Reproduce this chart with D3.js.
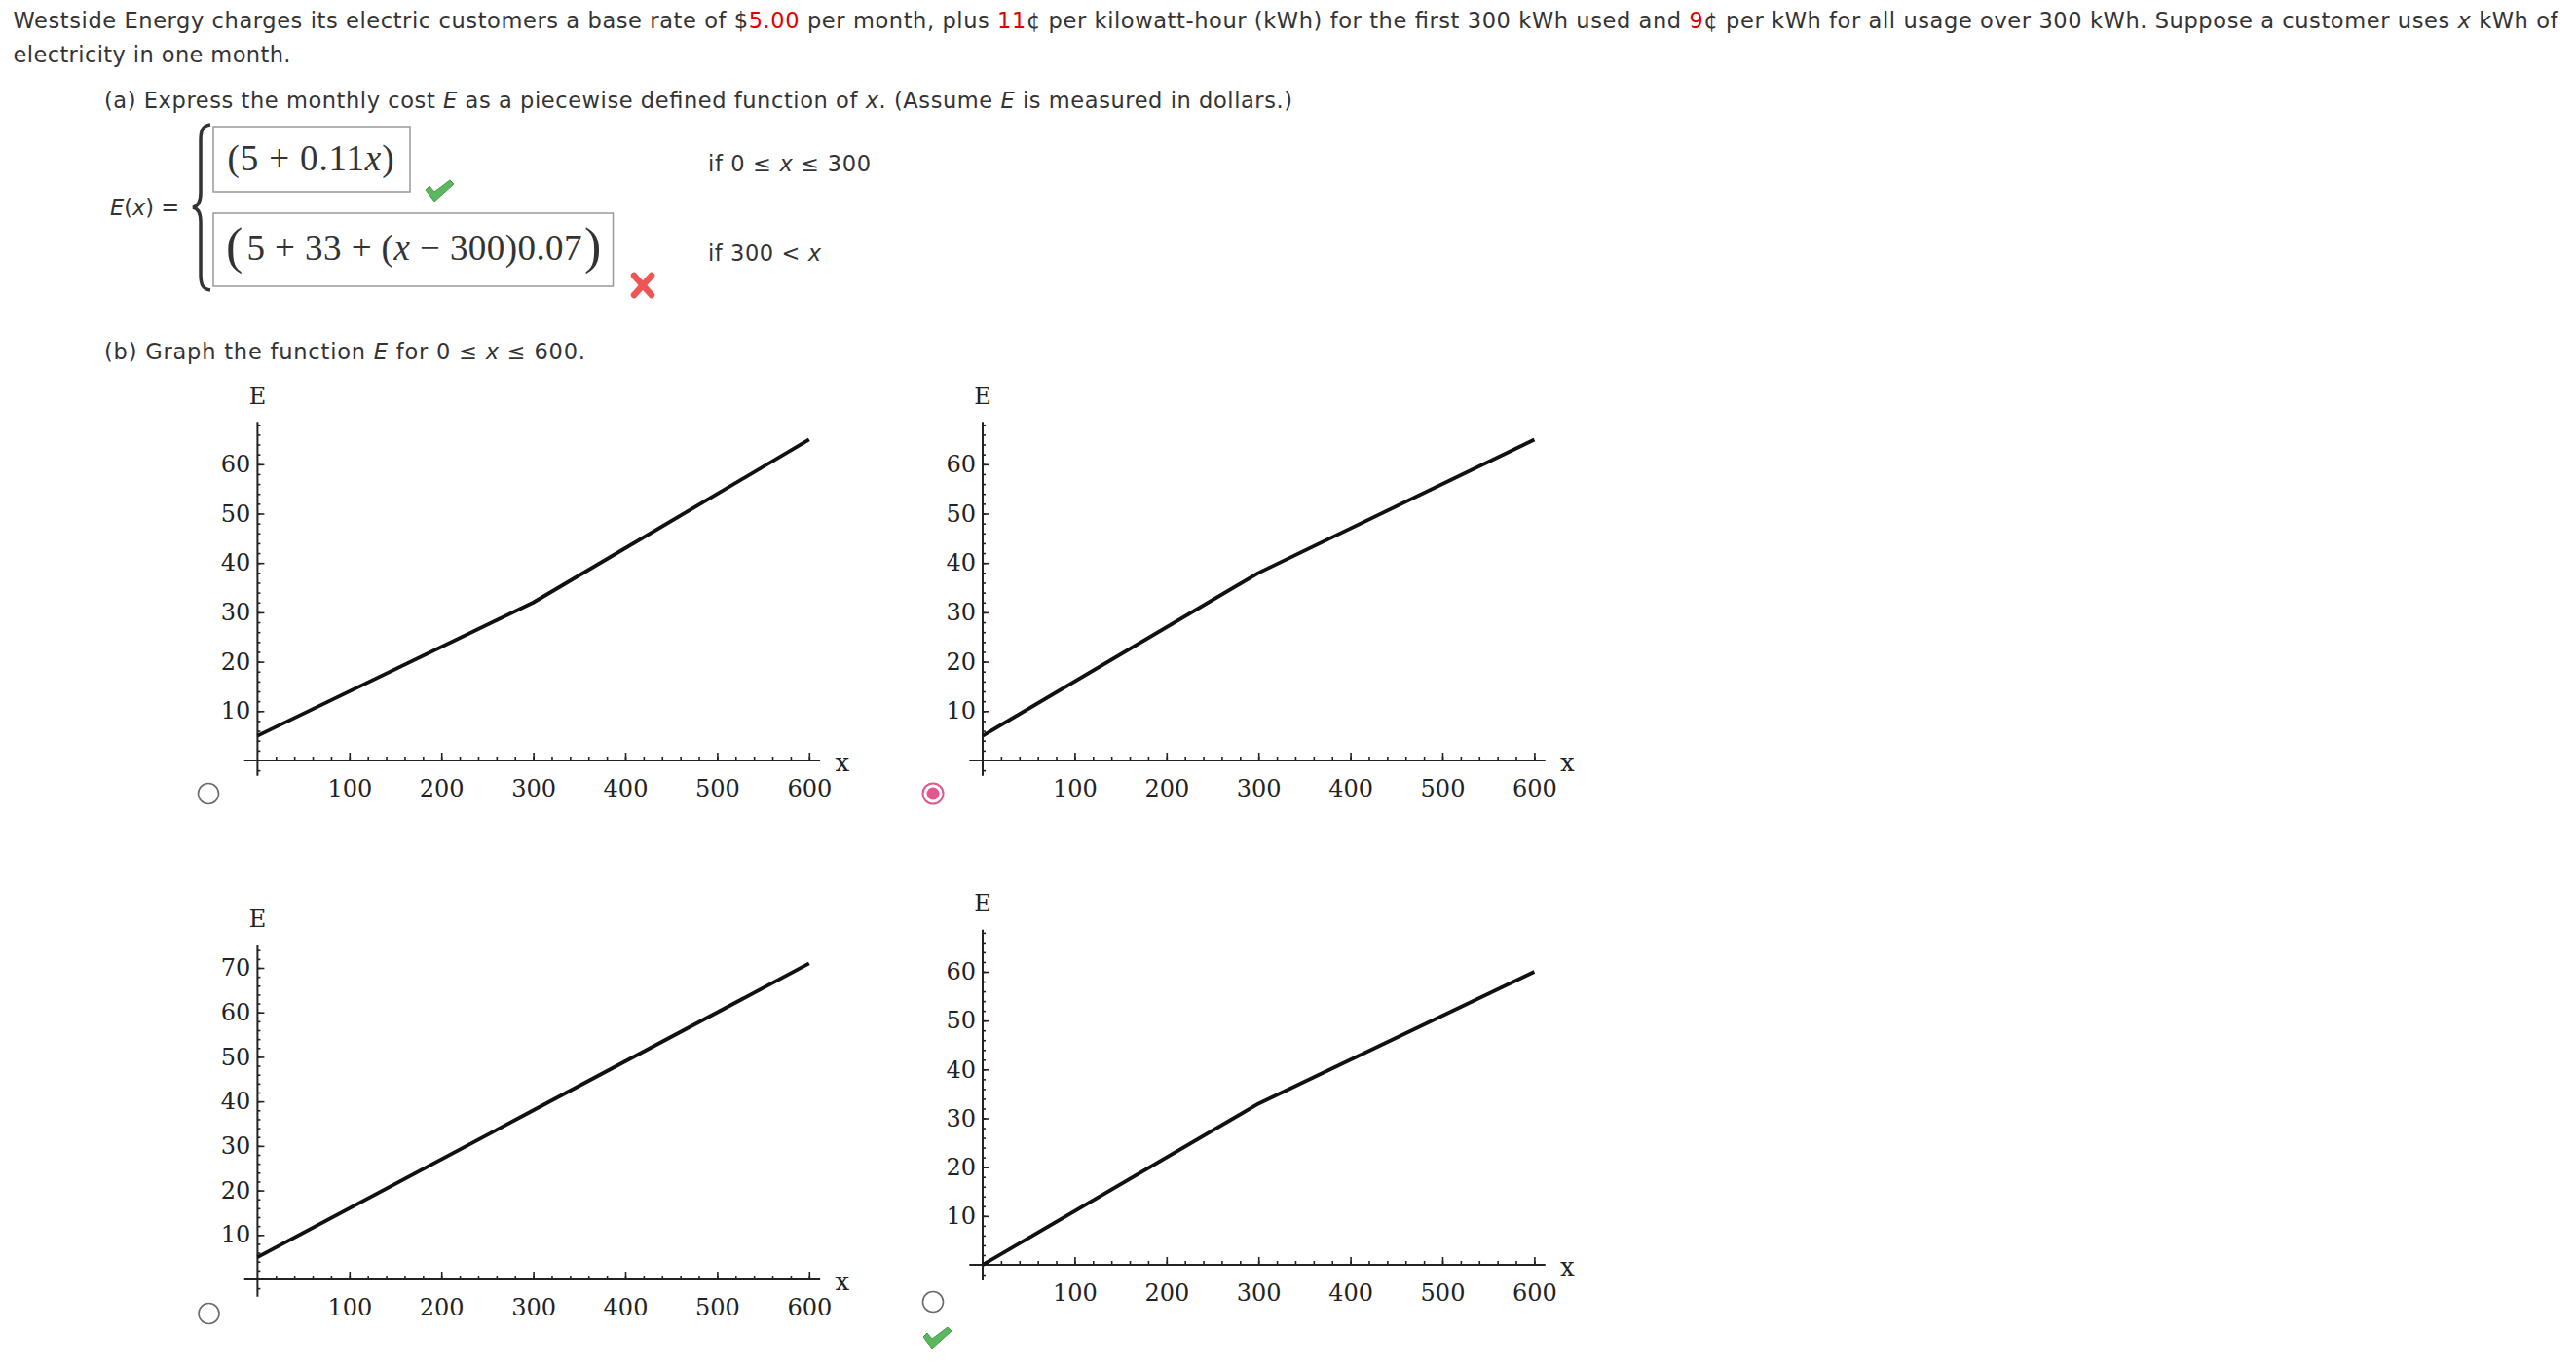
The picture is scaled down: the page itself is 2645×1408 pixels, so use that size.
<!DOCTYPE html>
<html>
<head>
<meta charset="utf-8">
<script src="https://cdn.jsdelivr.net/npm/d3@7"></script>
<style>
  body { margin: 0; background: #fff; }
  svg text { fill: #333; }
</style>
</head>
<body>
<div id="page"></div>
<script>
// values (kWh -> dollars)
const kwhBreaks = [0, 300, 600];
const costOptionA = [5, 32, 65];
const costOptionB = [5, 38, 65];
const costOptionC = [5, 38, 71];
const costOptionD = [0, 33, 60];
const xTickLabels = [100, 200, 300, 400, 500, 600];
const yTickLabelsA = [10, 20, 30, 40, 50, 60];
const yTickLabelsC = [10, 20, 30, 40, 50, 60, 70];

const W = 2645, H = 1408;
const sans = "Verdana, 'DejaVu Sans', sans-serif";
const serif = "'DejaVu Serif', serif";
const mathFont = "'Liberation Serif', 'Times New Roman', serif";

const svg = d3.select("#page").append("svg")
  .attr("width", W)
  .attr("height", H)
  .style("display", "block");

svg.append("rect").attr("width", W).attr("height", H).attr("fill", "#fff");

// ---------- question text ----------
const line1 = svg.append("text")
  .attr("x", 13.5).attr("y", 28.5)
  .style("font-family", sans).style("font-size", "22.5px")
  .attr("textLength", 2613).attr("lengthAdjust", "spacing");
line1.append("tspan").text("Westside Energy charges its electric customers a base rate of $");
line1.append("tspan").style("fill", "#e00000").text("5.00");
line1.append("tspan").text(" per month, plus ");
line1.append("tspan").style("fill", "#e00000").text("11");
line1.append("tspan").text("¢ per kilowatt-hour (kWh) for the first 300 kWh used and ");
line1.append("tspan").style("fill", "#e00000").text("9");
line1.append("tspan").text("¢ per kWh for all usage over 300 kWh. Suppose a customer uses ");
line1.append("tspan").style("font-style", "italic").text("x");
line1.append("tspan").text(" kWh of");

svg.append("text")
  .attr("x", 13.5).attr("y", 64)
  .style("font-family", sans).style("font-size", "22.5px")
  .attr("textLength", 285).attr("lengthAdjust", "spacing")
  .text("electricity in one month.");

const lineA = svg.append("text")
  .attr("x", 107).attr("y", 110.5)
  .style("font-family", sans).style("font-size", "22.5px")
  .attr("textLength", 1220).attr("lengthAdjust", "spacing");
lineA.append("tspan").text("(a) Express the monthly cost ");
lineA.append("tspan").style("font-style", "italic").text("E");
lineA.append("tspan").text(" as a piecewise defined function of ");
lineA.append("tspan").style("font-style", "italic").text("x");
lineA.append("tspan").text(". (Assume ");
lineA.append("tspan").style("font-style", "italic").text("E");
lineA.append("tspan").text(" is measured in dollars.)");

// piecewise formula
const ex = svg.append("text")
  .attr("x", 113).attr("y", 221)
  .style("font-family", sans).style("font-size", "22.5px");
ex.append("tspan").style("font-style", "italic").text("E");
ex.append("tspan").text("(");
ex.append("tspan").style("font-style", "italic").text("x");
ex.append("tspan").text(") =");

svg.append("path")
  .attr("d", "M216,128 C208,129 206,134 206,144 L206,198 C206,207 203,212 198,213 C203,214 206,219 206,228 L206,282 C206,292 208,297 216,298")
  .attr("fill", "none").attr("stroke", "#333").attr("stroke-width", 3.5);

svg.append("rect").attr("x", 219).attr("y", 130).attr("width", 202).attr("height", 67)
  .attr("fill", "#fff").attr("stroke", "#999").attr("stroke-width", 1.5);
svg.append("rect").attr("x", 219).attr("y", 219).attr("width", 410.5).attr("height", 75)
  .attr("fill", "#fff").attr("stroke", "#999").attr("stroke-width", 1.5);

const f1 = svg.append("text")
  .attr("x", 233.5).attr("y", 175)
  .style("font-family", mathFont).style("font-size", "37px")
  .attr("textLength", 171).attr("lengthAdjust", "spacing");
f1.append("tspan").text("(5 + 0.11");
f1.append("tspan").style("font-style", "italic").text("x");
f1.append("tspan").text(")");

svg.append("text").attr("x", 232).attr("y", 270)
  .style("font-family", mathFont).style("font-size", "52px").text("(");
const f2 = svg.append("text")
  .attr("x", 253.5).attr("y", 267)
  .style("font-family", mathFont).style("font-size", "37px")
  .attr("textLength", 344).attr("lengthAdjust", "spacing");
f2.append("tspan").text("5 + 33 + (");
f2.append("tspan").style("font-style", "italic").text("x");
f2.append("tspan").text(" − 300)0.07");
svg.append("text").attr("x", 600).attr("y", 270)
  .style("font-family", mathFont).style("font-size", "52px").text(")");

const cond1 = svg.append("text").attr("x", 727).attr("y", 175.5)
  .style("font-family", sans).style("font-size", "22.5px")
  .attr("textLength", 167).attr("lengthAdjust", "spacing");
cond1.append("tspan").text("if 0 ≤ ");
cond1.append("tspan").style("font-style", "italic").text("x");
cond1.append("tspan").text(" ≤ 300");

const cond2 = svg.append("text").attr("x", 727).attr("y", 268)
  .style("font-family", sans).style("font-size", "22.5px")
  .attr("textLength", 116).attr("lengthAdjust", "spacing");
cond2.append("tspan").text("if 300 < ");
cond2.append("tspan").style("font-style", "italic").text("x");

function checkMark(cx, cy) {
  svg.append("path")
    .attr("transform", `translate(${cx - 15},${cy - 11})`)
    .attr("d", "M0,10 L4,6 L9,12 L25,0 L29,4 L9,22 Z")
    .attr("fill", "#5cb85c").attr("stroke", "#4a9a4a").attr("stroke-width", 1);
}
checkMark(452, 196);

svg.append("g").attr("transform", "translate(660,293)")
  .selectAll("line").data([[-9, -10, 9, 10], [-9, 10, 9, -10]]).enter()
  .append("line")
  .attr("x1", d => d[0]).attr("y1", d => d[1]).attr("x2", d => d[2]).attr("y2", d => d[3])
  .attr("stroke", "#ee5555").attr("stroke-width", 6.5).attr("stroke-linecap", "round");

const lineB = svg.append("text")
  .attr("x", 107).attr("y", 369)
  .style("font-family", sans).style("font-size", "22.5px")
  .attr("textLength", 494).attr("lengthAdjust", "spacing");
lineB.append("tspan").text("(b) Graph the function ");
lineB.append("tspan").style("font-style", "italic").text("E");
lineB.append("tspan").text(" for  0 ≤ ");
lineB.append("tspan").style("font-style", "italic").text("x");
lineB.append("tspan").text(" ≤ 600.");

// ---------- the four graphs ----------
const panels = [
  { cost: costOptionA, yTicks: yTickLabelsA, left: 264.4, bottom: 781, topPx: 476.8,
    xExt: [-14.5, 612], yExt: [-3.1, 68.6], radio: [214, 815], selected: false },
  { cost: costOptionB, yTicks: yTickLabelsA, left: 1009, bottom: 781, topPx: 476.8,
    xExt: [-14.5, 612], yExt: [-3.1, 68.6], radio: [958, 815], selected: true },
  { cost: costOptionC, yTicks: yTickLabelsC, left: 264.4, bottom: 1314, topPx: 994,
    xExt: [-14.5, 612], yExt: [-3.9, 75.1], radio: [214.5, 1349], selected: false },
  { cost: costOptionD, yTicks: yTickLabelsA, left: 1009, bottom: 1299, topPx: 998,
    xExt: [-14.5, 612], yExt: [-3.2, 68.6], radio: [958, 1337], selected: false }
];

panels.forEach(p => {
  const x = d3.scaleLinear().domain([0, 600]).range([p.left, p.left + 566.4]);
  const y = d3.scaleLinear().domain([0, d3.max(p.yTicks)]).range([p.bottom, p.topPx]);
  const g = svg.append("g");

  // minor / major ticks on x axis (pointing up)
  g.append("g").attr("transform", `translate(0,${p.bottom})`)
    .call(d3.axisTop(x).tickValues(d3.range(20, 601, 20)).tickSize(4).tickFormat(""))
    .call(a => a.select(".domain").remove());
  g.append("g").attr("transform", `translate(0,${p.bottom})`)
    .call(d3.axisTop(x).tickValues(xTickLabels).tickSize(8).tickFormat(""))
    .call(a => a.select(".domain").remove());
  g.append("g").attr("transform", `translate(0,${p.bottom})`)
    .call(d3.axisBottom(x).tickValues(xTickLabels).tickSize(0))
    .call(a => a.select(".domain").remove())
    .selectAll("text")
    .attr("y", 28.5).attr("dy", "0.36em")
    .style("font-family", serif).style("font-size", "24px").style("fill", "#222");

  // y axis ticks (pointing right), labels on the left
  const minorY = d3.range(-2, p.yExt[1], 2).filter(v => v !== 0);
  g.append("g").attr("transform", `translate(${x(0)},0)`)
    .call(d3.axisRight(y).tickValues(minorY).tickSize(3).tickFormat(""))
    .call(a => a.select(".domain").remove());
  g.append("g").attr("transform", `translate(${x(0)},0)`)
    .call(d3.axisRight(y).tickValues(p.yTicks).tickSize(7).tickFormat(""))
    .call(a => a.select(".domain").remove());
  g.append("g").attr("transform", `translate(${x(0)},0)`)
    .call(d3.axisLeft(y).tickValues(p.yTicks).tickSize(0).tickPadding(7))
    .call(a => a.select(".domain").remove())
    .selectAll("text")
    .style("font-family", serif).style("font-size", "24px").style("fill", "#222");

  g.selectAll(".tick line").attr("stroke", "#222").attr("stroke-width", 1.6);

  // axis lines
  g.append("line")
    .attr("x1", x(p.xExt[0])).attr("x2", x(p.xExt[1]))
    .attr("y1", y(0)).attr("y2", y(0))
    .attr("stroke", "#222").attr("stroke-width", 2);
  g.append("line")
    .attr("x1", x(0)).attr("x2", x(0))
    .attr("y1", y(p.yExt[0])).attr("y2", y(p.yExt[1]))
    .attr("stroke", "#222").attr("stroke-width", 2);

  // axis names
  g.append("text")
    .attr("x", x(0)).attr("y", y(p.yExt[1]) - 27)
    .attr("text-anchor", "middle").attr("dy", "0.36em")
    .style("font-family", serif).style("font-size", "24px").style("fill", "#222")
    .text("E");
  g.append("text")
    .attr("x", x(600) + 34).attr("y", y(0) + 3)
    .attr("text-anchor", "middle").attr("dy", "0.3em")
    .style("font-family", serif).style("font-size", "26px").style("fill", "#222")
    .text("x");

  // the cost function
  const pts = kwhBreaks.map((k, i) => [k, p.cost[i]]);
  g.append("path")
    .datum(pts)
    .attr("d", d3.line().x(d => x(d[0])).y(d => y(d[1])))
    .attr("fill", "none").attr("stroke", "#111")
    .attr("stroke-width", 3.8).attr("stroke-linejoin", "round");

  // radio button
  if (p.selected) {
    g.append("circle").attr("cx", p.radio[0]).attr("cy", p.radio[1]).attr("r", 10.5)
      .attr("fill", "#fff").attr("stroke", "#e2568d").attr("stroke-width", 2);
    g.append("circle").attr("cx", p.radio[0]).attr("cy", p.radio[1]).attr("r", 6.5)
      .attr("fill", "#e2568d");
  } else {
    g.append("circle").attr("cx", p.radio[0]).attr("cy", p.radio[1]).attr("r", 10.5)
      .attr("fill", "#fff").attr("stroke", "#6b6b6b").attr("stroke-width", 1.6);
  }
});

checkMark(963, 1374);
</script>
</body>
</html>
